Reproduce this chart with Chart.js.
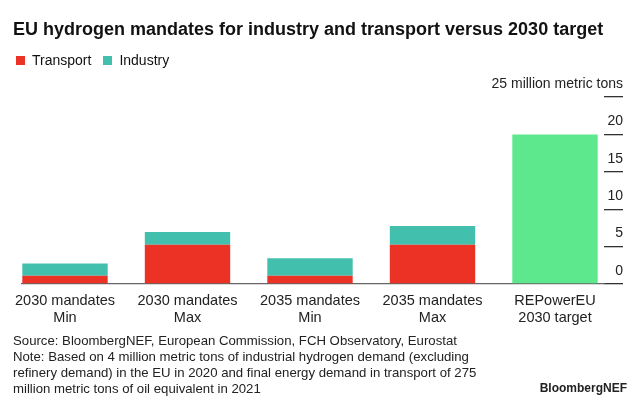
<!DOCTYPE html>
<html>
<head>
<meta charset="utf-8">
<script src="https://cdn.jsdelivr.net/npm/chart.js@4.4.1/dist/chart.umd.min.js"></script>
<style>
    body { margin: 0; background: #fff; font-family: "Liberation Sans", Arial, sans-serif; color: #111; }
    #page { position: relative; width: 640px; height: 407px; overflow: hidden; }
    #chart { position: absolute; left: 0; top: 0; }
    .title { position: absolute; left: 13px; top: 19px; font-size: 18px; font-weight: bold; white-space: nowrap; }
    .legend { position: absolute; left: 16px; top: 52px; font-size: 14px; white-space: nowrap; }
    .legend span.item { margin-right: 12px; }
    .legend i { display: inline-block; width: 9px; height: 9px; margin-right: 7px; }
    .notes { position: absolute; left: 13px; top: 333px; font-size: 13.2px; line-height: 16px; color: #222; white-space: nowrap; }
    .brand { position: absolute; right: 13px; top: 381px; font-size: 12px; font-weight: bold; color: #222; }
</style>
</head>
<body>
<div id="page">
    <canvas id="chart" width="640" height="407"></canvas>
    <div class="title">EU hydrogen mandates for industry and transport versus 2030 target</div>
    <div class="legend" id="legend"></div>
    <div class="notes">
        Source: BloombergNEF, European Commission, FCH Observatory, Eurostat<br>
        Note: Based on 4 million metric tons of industrial hydrogen demand (excluding<br>
        refinery demand) in the EU in 2020 and final energy demand in transport of 275<br>
        million metric tons of oil equivalent in 2021
    </div>
    <div class="brand">BloombergNEF</div>
</div>
<script>
    // values (million metric tons)
    const categories = [
        ["2030 mandates", "Min"],
        ["2030 mandates", "Max"],
        ["2035 mandates", "Min"],
        ["2035 mandates", "Max"],
        ["REPowerEU", "2030 target"]
    ];
    const transport = [1.1, 5.25, 1.1, 5.25];
    const industry = [1.65, 1.7, 2.35, 2.5];
    const targetIndex = 4;
    const target = 20;
    const yMax = 25;
    const yStep = 5;
    const unitLabel = "million metric tons";

    const colors = { transport: "#ec3224", industry: "#43bfad", target: "#5ee88d" };

    // html legend (only the two mandate series)
    const legendEl = document.getElementById("legend");
    [["Transport", colors.transport], ["Industry", colors.industry]].forEach(([name, c]) => {
        const s = document.createElement("span");
        s.className = "item";
        s.innerHTML = `<i style="background:${c}"></i>${name}`;
        legendEl.appendChild(s);
    });

    const toPoints = arr => arr.map((v, i) => ({ x: i, y: v }));

    const barOpts = { barPercentage: 1, categoryPercentage: 0.697, borderWidth: 0, stack: "s" };

    new Chart(document.getElementById("chart").getContext("2d"), {
        type: "bar",
        data: {
            datasets: [
                { label: "Transport", data: toPoints(transport), backgroundColor: colors.transport, ...barOpts },
                { label: "Industry", data: toPoints(industry), backgroundColor: colors.industry, ...barOpts },
                { label: "REPowerEU", data: [{ x: targetIndex, y: target }], backgroundColor: colors.target, ...barOpts }
            ]
        },
        options: {
            responsive: false,
            animation: false,
            devicePixelRatio: 1,
            layout: { padding: { left: 22, right: 17, top: 97, bottom: 73 } },
            plugins: { legend: { display: false }, tooltip: { enabled: false } },
            scales: {
                x: {
                    type: "linear",
                    stacked: true,
                    offset: false,
                    bounds: "data",
                    min: -0.351,
                    max: 4.4,
                    grid: { display: false, offset: false },
                    border: { display: true, color: "#666", width: 1.3 },
                    ticks: {
                        autoSkip: false,
                        maxRotation: 0,
                        padding: 0,
                        color: "#222",
                        font: { family: "'Liberation Sans', Arial, sans-serif", size: 14.5 },
                        callback: v => categories[v] || ""
                    },
                    // one tick per category
                    afterBuildTicks: s => { s.ticks = categories.map((c, i) => ({ value: i })); },
                    afterFit: s => { s.height = 50; }
                },
                y: {
                    position: "right",
                    stacked: true,
                    min: 0,
                    max: yMax,
                    grid: { drawOnChartArea: false, drawTicks: true, tickLength: 19, color: "#333", lineWidth: 1.3 },
                    border: { display: false },
                    ticks: {
                        stepSize: yStep,
                        mirror: true,
                        padding: 19,
                        crossAlign: "near",
                        labelOffset: -13,
                        color: "#222",
                        font: { family: "'Liberation Sans', Arial, sans-serif", size: 14 },
                        callback: v => v === yMax ? `${v} ${unitLabel}` : v
                    },
                    afterFit: s => { s.width = 19; }
                }
            }
        }
    });
</script>
</body>
</html>
